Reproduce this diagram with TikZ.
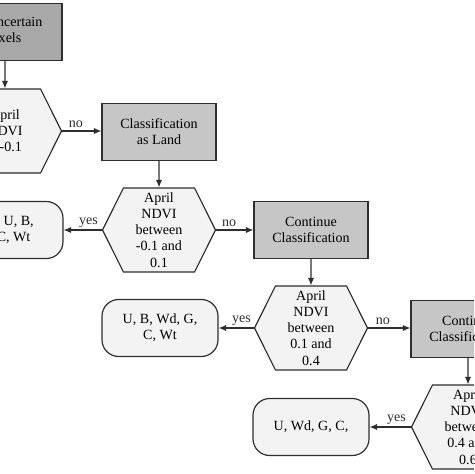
\documentclass[tikz,border=0pt]{standalone}
\usepackage{fontspec}
\setmainfont{Liberation Serif}
\usepackage{xcolor}
\definecolor{ink}{HTML}{2E2E2E}
\definecolor{darkfill}{HTML}{A8A8A8}
\definecolor{midfill}{HTML}{C6C6C6}
\definecolor{palefill}{HTML}{F3F3F3}
\usetikzlibrary{shapes.symbols,arrows.meta}

\begin{document}
\begin{tikzpicture}[x=0.03cm,y=-0.03cm,
  font=\fontsize{12}{13.8}\selectfont,
  procbox/.style={draw=ink, line width=1pt, fill=midfill, minimum width=3.42cm, minimum height=1.7cm, align=center},
  testbox/.style={draw=ink, line width=1pt, fill=palefill, signal, signal to=west and east,
                  signal pointer angle=127, minimum width=3.39cm, minimum height=2.52cm, inner sep=0pt, align=center},
  classbox/.style={draw=ink, line width=1pt, fill=palefill, rounded corners=0.5cm,
                   minimum width=3.48cm, minimum height=1.71cm, align=center},
  flow/.style={ink, line width=1pt, -{Latex[length=6.5pt,width=5.5pt]}},
  lbl/.style={above, pos=0.35, inner sep=2pt}]
  \useasboundingbox (0,0) rectangle (474,474);
  \clip (0,0) rectangle (474,474);
  % start box
  \node[procbox, fill=darkfill, text width=1.08cm, align=left] (start) at (5,32) {Uncertain\\Pixels\vspace{4pt}};
  % ndvi tests
  \node[testbox] (dec1) at (5,131) {April\\NDVI\\< -0.1};
  \node[testbox] (dec2) at (159,230) {April\\NDVI\\between\\-0.1 and\\0.1};
  \node[testbox] (dec3) at (311,328) {April\\NDVI\\between\\0.1 and\\0.4};
  \node[testbox] (dec4) at (468,427) {April\\NDVI\\between\\0.4 and\\0.6};
  % grey steps
  \node[procbox] (land) at (159,132) {Classification\\as Land};
  \node[procbox] (cont1) at (311,230) {Continue\\Classification};
  \node[procbox] (cont2) at (468,329) {Continue\\Classification};
  % class sets
  \node[classbox] (set1) at (5,230) {Wd, U, B,\\G, C, Wt};
  \node[classbox] (set2) at (160,328) {U, B, Wd, G,\\C, Wt};
  \node[classbox] (set3) at (311,427) {U, Wd, G, C,};
  % arrows down
  \foreach \a/\b in {start/dec1, land/dec2, cont1/dec3, cont2/dec4}
    \draw[flow] (\a) -- (\b);
  % no / yes branches
  \foreach \a/\b in {dec1/land, dec2/cont1, dec3/cont2}
    \draw[flow] (\a.east) -- node[lbl] {no} (\a.east -| \b.west);
  \foreach \a/\b in {dec2/set1, dec3/set2, dec4/set3}
    \draw[flow] (\a.west) -- node[lbl] {yes} (\a.west -| \b.east);
\end{tikzpicture}
\end{document}
